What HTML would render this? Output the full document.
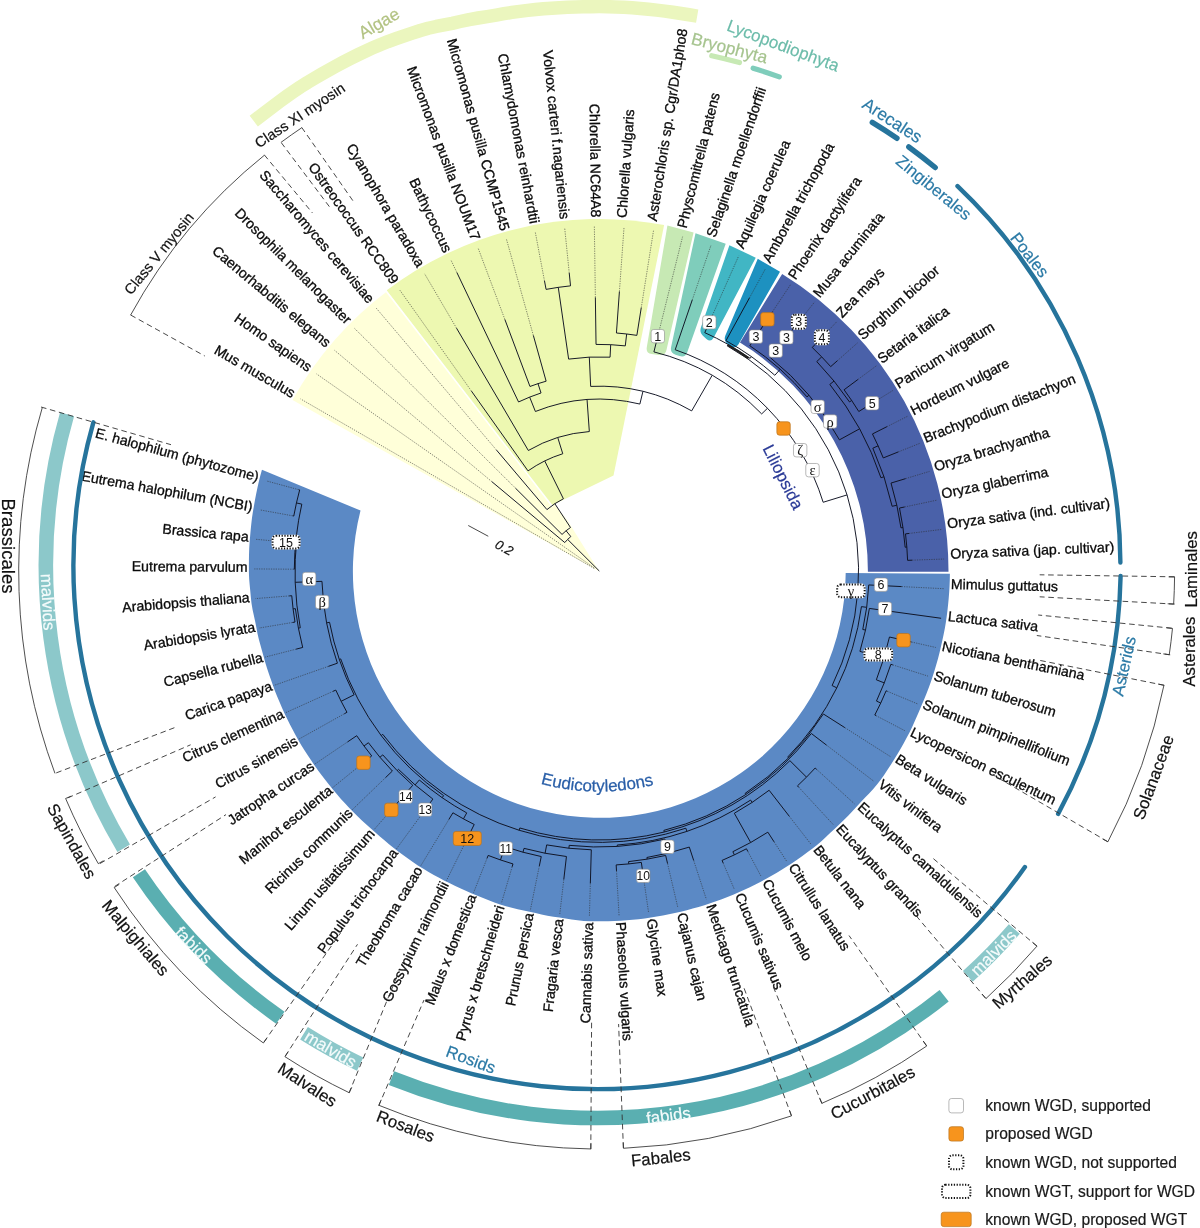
<!DOCTYPE html>
<html><head><meta charset="utf-8"><title>Myosin phylogeny</title>
<style>html,body{margin:0;padding:0;background:#fff}svg{display:block}</style></head>
<body>
<svg width="1200" height="1228" viewBox="0 0 1200 1228">
<path d="M599.3 571.4L292.47 399.92L292.47 399.92A351.5 351.5 0 0 1 387.76 290.68L567.5 520.52Z" fill="#ffffd9"/>
<path d="M551.7 505.6L386.97 290.65L386.73 290.33A352.4 352.4 0 0 1 664.12 225.01L613.5 475.6Z" fill="#edf8b1"/>
<path d="M552.5 506.6 L385.33 290.01" stroke="#fff" stroke-width="1.6" fill="none"/>
<path d="M667.41 225.52L693.57 232.61L666.48 349.88Q665.12 355.72 659.17 354.96L651.75 354.02Q645.8 353.26 646.8 347.34Z" fill="#c7e9b4"/>
<path d="M695.51 233.21L725.7 243.82L687.25 352.17Q685.25 357.83 679.53 356.01L675.59 354.75Q669.87 352.93 671.13 347.07Z" fill="#7fcdbb"/>
<path d="M729.4 245.31L755.74 257.64L713.89 337.34Q711.11 342.66 706.42 338.91L703.7 336.58Q699.02 332.83 700.98 327.17Z" fill="#41b6c4"/>
<path d="M757.77 258.76L780 271.84L738.49 344.2Q735.51 349.4 730.58 345.98L728.06 344.18Q723.13 340.76 725.47 335.24Z" fill="#1d91c0"/>
<path d="M782.19 273.92A349.2 349.2 0 0 1 948.5 571.7L867.9 571.63A268.6 268.6 0 0 0 739.97 342.58Z" fill="#4a61a9" />
<path d="M949.89 573.73L949.79 579.85L949.55 585.98L949.19 592.1L948.71 598.21L948.13 604.31L947.46 610.4L946.69 616.48L945.84 622.54L944.81 628.58L943.62 634.59L942.32 640.57L940.96 646.53L939.57 652.49L938.04 658.42L936.39 664.3L934.63 670.16L932.8 675.99L930.9 681.8L928.83 687.55L926.62 693.24L924.3 698.9L921.93 704.52L919.55 710.14L917.15 715.75L914.71 721.35L912.17 726.91L909.49 732.4L906.65 737.81L903.74 743.18L900.75 748.52L897.66 753.79L894.44 758.99L891.17 764.16L887.85 769.3L884.44 774.38L880.91 779.38L877.21 784.26L873.25 788.93L869.1 793.44L864.87 797.86L860.67 802.29L856.56 806.8L852.4 811.26L848.17 815.65L843.86 819.96L839.48 824.2L835.03 828.38L830.61 832.58L826.18 836.78L821.67 840.91L817.03 844.89L812.23 848.68L807.35 852.36L802.41 855.96L797.41 859.48L792.36 862.92L787.24 866.27L782.07 869.53L776.84 872.7L771.55 875.78L766.22 878.76L760.83 881.66L755.39 884.45L749.9 887.16L744.37 889.76L738.78 892.26L733.16 894.67L727.49 896.97L721.78 899.16L716.03 901.26L710.24 903.25L704.43 905.14L698.58 906.93L692.7 908.62L686.79 910.21L680.85 911.69L674.89 913.08L668.9 914.35L662.9 915.53L656.87 916.59L650.83 917.56L644.77 918.41L638.7 919.16L632.61 919.8L626.51 920.34L620.41 920.76L614.3 921.08L608.18 921.28L602.06 921.36L595.94 921.31L589.82 921.18L583.71 920.9L577.62 920.26L571.56 919.38L565.52 918.44L559.48 917.62L553.44 916.77L547.45 915.66L541.49 914.41L535.55 913.1L529.6 911.84L523.66 910.57L517.74 909.19L511.84 907.72L505.98 906.13L500.14 904.45L494.38 902.52L488.7 900.34L483.09 898.01L477.5 895.67L471.88 893.4L466.29 891.07L460.76 888.6L455.29 886.02L449.85 883.37L444.43 880.69L439.07 877.87L433.79 874.93L428.57 871.88L423.38 868.78L418.23 865.63L413.19 862.29L408.27 858.8L403.4 855.22L398.56 851.63L393.72 848.04L389.01 844.27L384.41 840.37L379.89 836.4L375.37 832.42L370.84 828.47L366.34 824.48L361.89 820.43L357.52 816.3L353.24 812.07L349.06 807.74L344.95 803.34L340.91 798.88L336.95 794.34L333.08 789.73L329.29 785.05L325.55 780.34L321.87 775.57L318.27 770.74L314.79 765.82L311.41 760.83L308.07 755.81L304.78 750.76L301.6 745.63L298.55 740.43L295.61 735.16L292.73 729.86L289.93 724.51L287.23 719.11L284.66 713.65L282.18 708.14L279.75 702.61L277.39 697.05L275.15 691.44L273.06 685.76L271.04 680.06L269.04 674.35L267.12 668.61L265.33 662.83L263.74 656.99L262.13 651.14L260.48 645.31L258.89 639.44L257.48 633.52L256.36 627.55L255.17 621.59L253.86 615.62L252.59 609.64L251.54 603.61L250.88 597.53L250.32 591.45L249.71 585.35L249.19 579.25L248.92 573.13L248.9 567L248.92 560.87L249.01 554.74L249.22 548.61L249.6 542.48L250.12 536.37L250.65 530.25L251.25 524.14L251.97 518.03L252.87 511.95L253.93 505.9L255.03 499.85L256.19 493.81L257.44 487.78L258.79 481.78L260.29 475.8L261.95 469.87L360.53 510.54L360.53 510.54A246.4 246.4 0 1 0 845.69 573.03Z" fill="#5b89c5"/>
<path d="M491.84 481.67L334.49 350.27M515.56 488.26L354.47 328.32M496.52 450.09L376.28 308.18M471.46 391.13L399.73 289.98M456.55 328.2L424.66 273.87M456.91 272.59L450.89 259.95M504.88 319.51L478.21 248.35M533.35 335.44L506.43 239.14M544.49 280.93L535.33 232.38M569.23 272.91L564.71 228.14M595.37 297.43L594.35 226.44M619.41 291.52L624.02 227.29M641.26 307.72L653.51 230.69M656.28 342.38L682.6 236.61M692.28 299.88L711.07 245.01M712.45 315.28L738.72 255.83M749.45 297.91L765.33 268.98M772.41 311.83L790.71 284.37M804.07 315.17L814.68 301.89M827.4 331.55L837.05 321.4M837.44 360.66L857.66 342.77M857.89 379.53L876.36 365.82M879.39 398.79L893.01 390.4M886.93 426.66L907.48 416.32M898.31 451.92L919.67 443.39M905.56 478.65L929.49 471.4M904.57 506.97L936.86 500.15M908.98 533.45L941.74 529.44M912.1 560.18L944.08 559.03M901.62 586.59L943.87 588.71M911.42 641.97L935.81 647.48M892.77 664.89L928.02 676.13M887.34 691.31L917.8 704M875.96 715.63L905.22 730.89M844.82 727.61L890.38 756.59M826.51 745.1L873.38 780.93M816.65 769.37L854.36 803.72M798.83 787.33L833.44 824.78M789.34 816.32L810.79 843.97M774.09 841.83L786.58 861.14M747.85 851.44L760.98 876.17M723.23 863.17L734.18 888.94M693.66 860.39L706.38 899.36M667.55 863.53L677.79 907.35M644.19 882.17L648.62 912.86M616.5 870.91L619.09 915.83M590.35 883.27L589.4 916.26M563.8 879.36L559.79 914.13M539.33 865.96L530.48 909.47M512.14 866.81L501.67 902.3M487.07 858.22L473.59 892.68M463.71 845.72L446.43 880.68M448.93 819.37L420.46 866.31M421.09 815.21L396.25 849.2M386.33 815.57L373.64 830.11M385.56 777.61L352.02 809.97M357.75 767.29L332.35 787.89M347.6 741.88L314.48 764.31M344.35 713.76L298.6 739.3M333.06 691.31L285.01 712.96M328.45 666.33L273.72 685.51M296.11 649.15L265.11 657.1M292.52 622.47L258.98 628.06M289.27 595.91L255.37 598.59M293.81 569.21L254.31 568.93M271.73 540.77L255.8 539.28M292.79 515.84L259.83 509.87M298.71 489.7L266.38 480.91M594.1 568.4L300.52 398.9M594.38 567.96L316.46 373.85" fill="none" stroke="#2a2a2a" stroke-width="0.55" stroke-dasharray="1.3 1.1"/>
<path d="M564.76 542.56L491.84 481.67M562.04 534.41L515.56 488.26M546.94 509.6L496.52 450.09M528.03 470.9L471.46 391.13M528.33 450.49L456.55 328.2M518.55 401.96L456.91 272.59M529.98 386.47L504.88 319.51M546.13 381.19L533.35 335.44M529.98 386.47A197.5 197.5 0 0 1 546.13 381.19M541.04 392.97L538 383.65M518.55 401.96A187.7 187.7 0 0 1 541.04 392.97M535.4 411.49L529.65 397.1M546.09 289.38L544.49 280.93M570.53 285.85L569.23 272.91M546.09 289.38A287 287 0 0 1 570.53 285.85M568.64 359.1L558.27 287.35M596.04 344.42L595.37 297.43M616.43 333.01L619.41 291.52M636.86 335.37L641.26 307.72M616.43 333.01A239 239 0 0 1 636.86 335.37M625.29 345.89L626.67 333.97M596.04 344.42A227 227 0 0 1 625.29 345.89M610.07 357.17L610.69 344.69M568.64 359.1A214.5 214.5 0 0 1 610.07 357.17M590.67 386.4L589.3 357.13M653.92 351.89L656.28 342.38M675.21 349.74L692.28 299.88M704.77 332.66L712.45 315.28M725.97 340.68L749.45 297.91M749.82 345.69L772.41 311.83M770.23 357.51L804.07 315.17M812.24 347.49L827.4 331.55M830.7 366.62L837.44 360.66M812.24 347.49A309 309 0 0 1 830.7 366.62M816.78 361.58L821.68 356.86M844.08 389.78L857.89 379.53M858.78 411.49L879.39 398.79M844.08 389.78A304.8 304.8 0 0 1 858.78 411.49M849.51 401.93L851.66 400.47M816.78 361.58A302.2 302.2 0 0 1 849.51 401.93M829.82 384.45L834.02 381.05M872.46 433.94L886.93 426.66M883.27 457.93L898.31 451.92M872.46 433.94A305.8 305.8 0 0 1 883.27 457.93M872.84 448.2L878.12 445.82M891.02 483.05L905.56 478.65M899.49 508.04L904.57 506.97M905.51 533.88L908.98 533.45M907.6 560.34L912.1 560.18M905.51 533.88A308.5 308.5 0 0 1 907.6 560.34M905.15 547.22L906.84 547.09M899.49 508.04A306.8 306.8 0 0 1 905.15 547.22M900.97 527.83L902.95 527.54M891.02 483.05A304.8 304.8 0 0 1 900.97 527.83M892.15 506.29L896.84 505.25M872.84 448.2A300 300 0 0 1 892.15 506.29M880.94 477.76L883.98 476.75M829.82 384.45A296.8 296.8 0 0 1 880.94 477.76M839.43 439.85L859.6 428.8M770.23 357.51A273.8 273.8 0 0 1 839.43 439.85M807 396.86L808.91 395.25M749.82 345.69A271.3 271.3 0 0 1 807 396.86M774.83 375.28L780.23 369.24M725.97 340.68A263.2 263.2 0 0 1 774.83 375.28M750.11 358.38L751.38 356.59M704.77 332.66A261 261 0 0 1 750.11 358.38M727.25 345.87L728.09 344.39M868.76 584.94L901.62 586.59M869.37 608.43L941.1 618.27M889.48 637.01L911.42 641.97M890.86 664.29L892.77 664.89M886.14 690.81L887.34 691.31M874.81 715.03L875.96 715.63M886.14 690.81A310.7 310.7 0 0 1 874.81 715.03M876.48 701.05L880.73 703.04M890.86 664.29A306 306 0 0 1 876.48 701.05M876.35 679.81L884.26 682.9M889.48 637.01A297.5 297.5 0 0 1 876.35 679.81M859.91 651.35L883.72 658.65M869.37 608.43A272.6 272.6 0 0 1 859.91 651.35M862.77 629.48L865.51 630.08M868.76 584.94A269.8 269.8 0 0 1 862.77 629.48M861.44 606.63L866.7 607.34M823.39 713.97L844.82 727.61M811.34 733.5L826.51 745.1M815.17 768.03L816.65 769.37M797.47 785.86L798.83 787.33M815.17 768.03A292 292 0 0 1 797.47 785.86M789.91 760.65L806.51 777.13M769.11 790.25L789.34 816.32M767.85 832.17L774.09 841.83M746.45 848.79L747.85 851.44M722.06 860.41L723.23 863.17M746.45 848.79A314 314 0 0 1 722.06 860.41M732.87 851.7L734.38 854.86M767.85 832.17A310.5 310.5 0 0 1 732.87 851.7M734.34 813.25L750.68 842.5M769.11 790.25A277 277 0 0 1 734.34 813.25M750.61 800.07L752.16 802.4M689.31 847.08L693.66 860.39M665.67 855.45L667.55 863.53M641.33 862.38L644.19 882.17M616.16 864.92L616.5 870.91M641.33 862.38A294 294 0 0 1 616.16 864.92M628.54 861.63L628.77 863.92M665.67 855.45A291.7 291.7 0 0 1 628.54 861.63M646.92 857.46L647.2 859.14M689.31 847.08A290 290 0 0 1 646.92 857.46M664.89 839.08L668.31 853.07M591.31 849.79L590.35 883.27M566.44 856.51L563.8 879.36M541.25 856.55L539.33 865.96M512.99 863.93L512.14 866.81M488.16 855.43L487.07 858.22M512.99 863.93A305 305 0 0 1 488.16 855.43M505.02 846.7L500.48 859.95M541.25 856.55A291 291 0 0 1 505.02 846.7M524.03 848.35L522.98 852.21M566.44 856.51A287 287 0 0 1 524.03 848.35M546.68 844.88L545.08 853.23M591.31 849.79A278.5 278.5 0 0 1 546.68 844.88M569.21 845.35L568.9 848.24M664.89 839.08A275.6 275.6 0 0 1 569.21 845.35M617.23 845.01L617.33 846.41M750.61 800.07A274.2 274.2 0 0 1 617.23 845.01M685.83 828.21L686.86 831.25M474.21 824.48L463.71 845.72M452.92 812.79L448.93 819.37M474.21 824.48A282.3 282.3 0 0 1 452.92 812.79M466.72 812.9L463.44 818.86M432.89 799.07L421.09 815.21M412.75 785.27L386.33 815.57M392.39 771.02L385.56 777.61M371.73 755.95L357.75 767.29M356.71 735.71L347.6 741.88M371.73 755.95A293 293 0 0 1 356.71 735.71M368.42 742.72L364 745.99M392.39 771.02A287.5 287.5 0 0 1 368.42 742.72M382.77 754.86L379.95 757.25M412.75 785.27A283.8 283.8 0 0 1 382.77 754.86M398.47 769.37L397.19 770.63M432.89 799.07A282 282 0 0 1 398.47 769.37M419.33 779.99L415.08 784.91M466.72 812.9A275.5 275.5 0 0 1 419.33 779.99M443.58 795.64L442.16 797.69M346.97 712.29L344.35 713.76M335.79 690.08L333.06 691.31M346.97 712.29A289 289 0 0 1 335.79 690.08M354.1 694.79L341.14 701.31M337.42 663.19L328.45 666.33M302.7 647.46L296.11 649.15M294.99 622.06L292.52 622.47M291.76 595.71L289.27 595.91M294.99 622.06A308.5 308.5 0 0 1 291.76 595.71M295.37 608.64L293.09 608.92M302.7 647.46A306.2 306.2 0 0 1 295.37 608.64M300.28 627.82L298.41 628.17M294.31 569.21L293.81 569.21M295.62 543L271.73 540.77M293.78 516.02L292.79 515.84M299.67 489.96L298.71 489.7M293.78 516.02A310.5 310.5 0 0 1 299.67 489.96M301.81 504.14L296.44 502.93M294.31 569.21A305 305 0 0 1 301.81 504.14M297 536.55L296.31 536.47M300.28 627.82A304.3 304.3 0 0 1 297 536.55M321.98 581.35L295.2 582.31M337.42 663.19A277.5 277.5 0 0 1 321.98 581.35M329.56 622.29L326.61 622.85M354.1 694.79A274.5 274.5 0 0 1 329.56 622.29M340.71 658.92L339.29 659.4M443.58 795.64A273 273 0 0 1 340.71 658.92M382.76 734.34L381.16 735.55M685.83 828.21A271 271 0 0 1 382.76 734.34M519.83 827.98L519.12 830.27M789.91 760.65A268.6 268.6 0 0 1 519.83 827.98M663.86 830.37L664.27 832.02M811.34 733.5A266.9 266.9 0 0 1 663.86 830.37M745.12 793.39L745.84 794.48M823.39 713.97A265.6 265.6 0 0 1 745.12 793.39M787.69 757.06L788.47 757.83M861.44 606.63A264.5 264.5 0 0 1 787.69 757.06M832.12 685.55L836.79 687.84M727.25 345.87A259.3 259.3 0 0 1 832.12 685.55M823.17 502.28L847.06 494.91M675.21 349.74A234.3 234.3 0 0 1 823.17 502.28M761.67 413.91L767.48 408.27M653.92 351.89A226.2 226.2 0 0 1 761.67 413.91M691.68 410.89L712.14 375.35M590.67 386.4A185.2 185.2 0 0 1 691.68 410.89M639.87 404.05L642.93 391.41M535.4 411.49A172.2 172.2 0 0 1 639.87 404.05M589.33 431.55L587.06 399.64M528.33 450.49A140.2 140.2 0 0 1 589.33 431.55M562.78 453.74L557.74 437.5M528.03 470.9A123.2 123.2 0 0 1 562.78 453.74M563.42 498.78L544.73 460.95M546.94 509.6A81 81 0 0 1 563.42 498.78M570.49 527.51L554.85 503.69M562.04 534.41A52.5 52.5 0 0 1 570.49 527.51M570.83 536.55L566.09 530.74M564.76 542.56A45 45 0 0 1 570.83 536.55M599.3 571L567.65 539.41" fill="none" stroke="#0d1020" stroke-width="0.95" stroke-linejoin="miter"/>
<path d="M727.82 345.16A260.2 260.2 0 0 1 748.54 358.26" fill="none" stroke="#222" stroke-width="2.2"/>
<rect x="651.13" y="329.47" width="13.4" height="13.4" rx="2.6" fill="#fff" stroke="#8a8a8a" stroke-width="0.6"/>
<text x="657.83" y="340.67" font-family='"Liberation Sans", sans-serif' font-size="12.5" text-anchor="middle" fill="#111">1</text>
<rect x="702.64" y="315.62" width="13.4" height="13.4" rx="2.6" fill="#fff" stroke="#8a8a8a" stroke-width="0.6"/>
<text x="709.34" y="326.82" font-family='"Liberation Sans", sans-serif' font-size="12.5" text-anchor="middle" fill="#111">2</text>
<rect x="749.17" y="329.92" width="13.4" height="13.4" rx="2.6" fill="#fff" stroke="#8a8a8a" stroke-width="0.6"/>
<text x="755.87" y="341.12" font-family='"Liberation Sans", sans-serif' font-size="12.5" text-anchor="middle" fill="#111">3</text>
<rect x="760.71" y="312.61" width="13.4" height="13.4" rx="2.6" fill="#f7941d" stroke="#b9721c" stroke-width="0.7"/>
<rect x="769.02" y="343.94" width="13.4" height="13.4" rx="2.6" fill="#fff" stroke="#8a8a8a" stroke-width="0.6"/>
<text x="775.72" y="355.14" font-family='"Liberation Sans", sans-serif' font-size="12.5" text-anchor="middle" fill="#111">3</text>
<rect x="779.7" y="330.58" width="13.4" height="13.4" rx="2.6" fill="#fff" stroke="#8a8a8a" stroke-width="0.6"/>
<text x="786.4" y="341.78" font-family='"Liberation Sans", sans-serif' font-size="12.5" text-anchor="middle" fill="#111">3</text>
<rect x="790.82" y="313.73" width="16" height="16" rx="4.2" fill="#fff"/>
<rect x="791.82" y="314.73" width="14" height="14" rx="3.4" fill="none" stroke="#111" stroke-width="2.0" stroke-dasharray="1.25 1.55"/>
<text x="798.82" y="326.23" font-family='"Liberation Sans", sans-serif' font-size="12.5" text-anchor="middle" fill="#111">3</text>
<rect x="813.89" y="329.34" width="16" height="16" rx="4.2" fill="#fff"/>
<rect x="814.89" y="330.34" width="14" height="14" rx="3.4" fill="none" stroke="#111" stroke-width="2.0" stroke-dasharray="1.25 1.55"/>
<text x="821.89" y="341.84" font-family='"Liberation Sans", sans-serif' font-size="12.5" text-anchor="middle" fill="#111">4</text>
<rect x="865.45" y="396.55" width="13.4" height="13.4" rx="2.6" fill="#fff" stroke="#8a8a8a" stroke-width="0.6"/>
<text x="872.15" y="407.75" font-family='"Liberation Sans", sans-serif' font-size="12.5" text-anchor="middle" fill="#111">5</text>
<rect x="811.03" y="400.1" width="13.4" height="13.4" rx="2.6" fill="#fff" stroke="#8a8a8a" stroke-width="0.6"/>
<text x="817.73" y="412.02" font-family='"Liberation Serif", serif' font-size="14.5" text-anchor="middle" fill="#111">σ</text>
<rect x="823.49" y="414.76" width="13.4" height="13.4" rx="2.6" fill="#fff" stroke="#8a8a8a" stroke-width="0.6"/>
<text x="830.19" y="426.68" font-family='"Liberation Serif", serif' font-size="14.5" text-anchor="middle" fill="#111">ρ</text>
<rect x="776.86" y="421.77" width="13.4" height="13.4" rx="2.6" fill="#f7941d" stroke="#b9721c" stroke-width="0.7"/>
<rect x="793.48" y="443.52" width="13.4" height="13.4" rx="2.6" fill="#fff" stroke="#8a8a8a" stroke-width="0.6"/>
<text x="800.18" y="455.44" font-family='"Liberation Serif", serif' font-size="14.5" text-anchor="middle" fill="#111">ζ</text>
<rect x="805.79" y="463.47" width="13.4" height="13.4" rx="2.6" fill="#fff" stroke="#8a8a8a" stroke-width="0.6"/>
<text x="812.49" y="475.39" font-family='"Liberation Serif", serif' font-size="14.5" text-anchor="middle" fill="#111">ε</text>
<rect x="836.15" y="583.6" width="29.5" height="14.6" rx="4.2" fill="#fff"/>
<rect x="837.15" y="584.6" width="27.5" height="12.6" rx="3.4" fill="none" stroke="#111" stroke-width="2.0" stroke-dasharray="1.25 1.55"/>
<text x="850.9" y="596.12" font-family='"Liberation Serif", serif' font-size="14.5" text-anchor="middle" fill="#111">γ</text>
<rect x="874.29" y="577.98" width="13.4" height="13.4" rx="2.6" fill="#fff" stroke="#8a8a8a" stroke-width="0.6"/>
<text x="880.99" y="589.18" font-family='"Liberation Sans", sans-serif' font-size="12.5" text-anchor="middle" fill="#111">6</text>
<rect x="878.27" y="602.06" width="13.4" height="13.4" rx="2.6" fill="#fff" stroke="#8a8a8a" stroke-width="0.6"/>
<text x="884.97" y="613.26" font-family='"Liberation Sans", sans-serif' font-size="12.5" text-anchor="middle" fill="#111">7</text>
<rect x="863.45" y="647.5" width="29.7" height="14" rx="4.2" fill="#fff"/>
<rect x="864.45" y="648.5" width="27.7" height="12" rx="3.4" fill="none" stroke="#111" stroke-width="2.0" stroke-dasharray="1.25 1.55"/>
<text x="878.3" y="659" font-family='"Liberation Sans", sans-serif' font-size="12.5" text-anchor="middle" fill="#111">8</text>
<rect x="896.82" y="633.48" width="13.4" height="13.4" rx="2.6" fill="#f7941d" stroke="#b9721c" stroke-width="0.7"/>
<rect x="660.75" y="840.09" width="13.4" height="13.4" rx="2.6" fill="#fff" stroke="#8a8a8a" stroke-width="0.6"/>
<text x="667.45" y="851.29" font-family='"Liberation Sans", sans-serif' font-size="12.5" text-anchor="middle" fill="#111">9</text>
<rect x="636.57" y="869.14" width="13.4" height="13.4" rx="2.6" fill="#fff" stroke="#8a8a8a" stroke-width="0.6"/>
<text x="643.27" y="880.16" font-family='"Liberation Sans", sans-serif' font-size="12" text-anchor="middle" fill="#111">10</text>
<rect x="499.09" y="841.75" width="13.4" height="13.4" rx="2.6" fill="#fff" stroke="#8a8a8a" stroke-width="0.6"/>
<text x="505.79" y="852.77" font-family='"Liberation Sans", sans-serif' font-size="12" text-anchor="middle" fill="#111">11</text>
<rect x="453.3" y="831.46" width="28" height="14" rx="2.6" fill="#f7941d" stroke="#b9721c" stroke-width="0.7"/>
<text x="467.3" y="842.96" font-family='"Liberation Sans", sans-serif' font-size="12.5" text-anchor="middle" fill="#111">12</text>
<rect x="418.46" y="802.94" width="13.4" height="13.4" rx="2.6" fill="#fff" stroke="#8a8a8a" stroke-width="0.6"/>
<text x="425.16" y="813.96" font-family='"Liberation Sans", sans-serif' font-size="12" text-anchor="middle" fill="#111">13</text>
<rect x="398.94" y="789.88" width="13.4" height="13.4" rx="2.6" fill="#fff" stroke="#8a8a8a" stroke-width="0.6"/>
<text x="405.64" y="800.9" font-family='"Liberation Sans", sans-serif' font-size="12" text-anchor="middle" fill="#111">14</text>
<rect x="384.62" y="803.14" width="13.4" height="13.4" rx="2.6" fill="#f7941d" stroke="#b9721c" stroke-width="0.7"/>
<rect x="356.72" y="755.99" width="13.4" height="13.4" rx="2.6" fill="#f7941d" stroke="#b9721c" stroke-width="0.7"/>
<rect x="302.5" y="572.3" width="13.4" height="13.4" rx="2.6" fill="#fff" stroke="#8a8a8a" stroke-width="0.6"/>
<text x="309.2" y="584.22" font-family='"Liberation Serif", serif' font-size="14.5" text-anchor="middle" fill="#111">α</text>
<rect x="315.48" y="595.29" width="13.4" height="13.4" rx="2.6" fill="#fff" stroke="#8a8a8a" stroke-width="0.6"/>
<text x="322.18" y="607.21" font-family='"Liberation Serif", serif' font-size="14.5" text-anchor="middle" fill="#111">β</text>
<rect x="271.57" y="534.71" width="29" height="14.8" rx="4.2" fill="#fff"/>
<rect x="272.57" y="535.71" width="27" height="12.8" rx="3.4" fill="none" stroke="#111" stroke-width="2.0" stroke-dasharray="1.25 1.55"/>
<text x="286.07" y="546.61" font-family='"Liberation Sans", sans-serif' font-size="12.5" text-anchor="middle" fill="#111">15</text>
<g font-family='"Liberation Sans", sans-serif' font-size="14.2" fill="#0a0a0a" stroke="#0a0a0a" stroke-width="0.3">
<text transform="translate(293.59 394.9) rotate(390)" text-anchor="end" dy="3.85">Mus musculus</text>
<text transform="translate(309.85 369.24) rotate(394.93)" text-anchor="end" dy="3.85">Homo sapiens</text>
<text transform="translate(328.19 345.02) rotate(399.86)" text-anchor="end" dy="3.85">Caenorhabditis elegans</text>
<text transform="translate(348.55 322.44) rotate(404.79)" text-anchor="end" dy="3.85">Drosophila melanogaster</text>
<text transform="translate(370.8 301.71) rotate(409.73)" text-anchor="end" dy="3.85">Saccharomyces cerevisiae</text>
<text transform="translate(394.81 283.04) rotate(414.66)" text-anchor="end" dy="3.85">Ostreococcus RCC809</text>
<text transform="translate(420.29 266.42) rotate(419.59)" text-anchor="end" dy="3.85">Cyanophora paradoxa</text>
<text transform="translate(447.1 252.01) rotate(424.52)" text-anchor="end" dy="3.85">Bathycoccus</text>
<text transform="translate(475.08 240.02) rotate(429.45)" text-anchor="end" dy="3.85">Micromonas pusilla NOUM17</text>
<text transform="translate(504.02 230.54) rotate(434.38)" text-anchor="end" dy="3.85">Micromonas pusilla CCMP1545</text>
<text transform="translate(533.67 223.55) rotate(439.32)" text-anchor="end" dy="3.85">Chlamydomonas reinhardtii</text>
<text transform="translate(563.81 219.12) rotate(444.25)" text-anchor="end" dy="3.85">Volvox carteri f.nagariensis</text>
<text transform="translate(594.22 217.34) rotate(449.18)" text-anchor="end" dy="3.06">Chlorella NC64A8</text>
<text transform="translate(624.68 218.14) rotate(274.11)" dy="1.85">Chlorella vulgaris</text>
<text transform="translate(654.97 221.51) rotate(279.04)" dy="1.85">Asterochloris sp. Cgr/DA1pho8</text>
<text transform="translate(684.63 228.46) rotate(283.97)" dy="1.85">Physcomitrella patens</text>
<text transform="translate(713.6 237.63) rotate(288.9)" dy="1.85">Selaginella moellendorffii</text>
<text transform="translate(741.79 248.87) rotate(293.84)" dy="1.85">Aquilegia coerulea</text>
<text transform="translate(768.61 263.01) rotate(298.77)" dy="1.85">Amborella trichopoda</text>
<text transform="translate(794.04 279.38) rotate(303.7)" dy="1.85">Phoenix dactylifera</text>
<text transform="translate(818.37 297.27) rotate(308.63)" dy="1.85">Musa acuminata</text>
<text transform="translate(841 317.25) rotate(313.56)" dy="1.85">Zea mays</text>
<text transform="translate(861.86 339.05) rotate(318.49)" dy="1.85">Sorghum bicolor</text>
<text transform="translate(880.87 362.48) rotate(323.42)" dy="1.85">Setaria italica</text>
<text transform="translate(897.82 387.43) rotate(328.36)" dy="1.85">Panicum virgatum</text>
<text transform="translate(912.59 413.75) rotate(333.29)" dy="1.85">Hordeum vulgare</text>
<text transform="translate(925.05 441.23) rotate(338.22)" dy="1.85">Brachypodium distachyon</text>
<text transform="translate(935.1 469.7) rotate(343.15)" dy="1.85">Oryza brachyantha</text>
<text transform="translate(942.63 498.94) rotate(348.08)" dy="-0.15">Oryza glaberrima</text>
<text transform="translate(947.78 528.7) rotate(352.71)" dy="-0.15">Oryza sativa (ind. cultivar)</text>
<text transform="translate(950.57 558.8) rotate(357.55)" dy="-0.15">Oryza sativa (jap. cultivar)</text>
<text transform="translate(950.69 589.06) rotate(1.28)" dy="-0.15">Mimulus guttatus</text>
<text transform="translate(947.64 619.17) rotate(6.61)" dy="1.72">Lactuca sativa</text>
<text transform="translate(941.76 648.83) rotate(11.64)" dy="1.98">Nicotiana benthamiana</text>
<text transform="translate(933.55 677.89) rotate(16.97)" dy="2.11">Solanum tuberosum</text>
<text transform="translate(922.7 706.04) rotate(21.6)" dy="2.25">Solanum pimpinellifolium</text>
<text transform="translate(910.36 733.56) rotate(25.73)" dy="2.38">Lycopersicon esculentum</text>
<text transform="translate(895.45 759.82) rotate(32.47)" dy="2.35">Beta vulgaris</text>
<text transform="translate(878.45 784.8) rotate(37.4)" dy="2.15">Vitis vinifera</text>
<text transform="translate(858.05 807.08) rotate(42.33)" dy="2.05">Eucalyptus camaldulensis</text>
<text transform="translate(836.84 828.46) rotate(47.26)" dy="2.05">Eucalyptus grandis</text>
<text transform="translate(814.41 848.63) rotate(52.19)" dy="2.05">Betula nana</text>
<text transform="translate(789.81 866.15) rotate(57.12)" dy="2.05">Citrullus lanatus</text>
<text transform="translate(763.82 881.54) rotate(62.05)" dy="2.05">Cucumis melo</text>
<text transform="translate(736.59 894.63) rotate(66.99)" dy="2.05">Cucumis sativus</text>
<text transform="translate(708.31 905.26) rotate(71.92)" dy="2.05">Medicago truncatula</text>
<text transform="translate(679.21 913.42) rotate(76.85)" dy="2.27">Cajanus cajan</text>
<text transform="translate(649.52 919.06) rotate(81.78)" dy="2.84">Glycine max</text>
<text transform="translate(619.45 922.12) rotate(86.71)" dy="3.42">Phaseolus vulgaris</text>
<text transform="translate(589.23 922.46) rotate(271.64)" text-anchor="end" dy="3.91">Cannabis sativa</text>
<text transform="translate(559.24 918.9) rotate(276.58)" text-anchor="end" dy="4.25">Fragaria vesca</text>
<text transform="translate(529.72 913.19) rotate(281.51)" text-anchor="end" dy="4.25">Prunus persica</text>
<text transform="translate(500.6 905.94) rotate(286.44)" text-anchor="end" dy="4.25">Pyrus x bretschneideri</text>
<text transform="translate(472.64 895.1) rotate(291.37)" text-anchor="end" dy="4.25">Malus x domestica</text>
<text transform="translate(445.46 882.66) rotate(296.3)" text-anchor="end" dy="4.25">Gossypium raimondii</text>
<text transform="translate(419.48 867.94) rotate(301.23)" text-anchor="end" dy="4.25">Theobroma cacao</text>
<text transform="translate(395.13 850.73) rotate(306.16)" text-anchor="end" dy="4.25">Populus trichocarpa</text>
<text transform="translate(372.39 831.55) rotate(311.1)" text-anchor="end" dy="4.25">Linum usitatissimum</text>
<text transform="translate(350.65 811.29) rotate(316.03)" text-anchor="end" dy="4.25">Ricinus communis</text>
<text transform="translate(330.87 789.09) rotate(320.96)" text-anchor="end" dy="4.25">Manihot esculenta</text>
<text transform="translate(312.91 765.37) rotate(325.89)" text-anchor="end" dy="4.25">Jatropha curcas</text>
<text transform="translate(296.94 740.23) rotate(330.82)" text-anchor="end" dy="4.25">Citrus sinensis</text>
<text transform="translate(283.27 713.74) rotate(335.75)" text-anchor="end" dy="4.25">Citrus clementina</text>
<text transform="translate(271.83 686.17) rotate(340.68)" text-anchor="end" dy="4.25">Carica papaya</text>
<text transform="translate(262.59 657.75) rotate(345.62)" text-anchor="end" dy="4.1">Capsella rubella</text>
<text transform="translate(255.24 628.68) rotate(350.55)" text-anchor="end" dy="3.05">Arabidopsis lyrata</text>
<text transform="translate(249.69 599.04) rotate(355.48)" text-anchor="end" dy="3.05">Arabidopsis thaliana</text>
<text transform="translate(247.6 568.88) rotate(360.41)" text-anchor="end" dy="3.05">Eutrema parvulum</text>
<text transform="translate(248.62 538.61) rotate(365.34)" text-anchor="end" dy="3.05">Brassica rapa</text>
<text transform="translate(252.15 508.48) rotate(370.27)" text-anchor="end" dy="3.05">Eutrema halophilum (NCBI)</text>
<text transform="translate(258.21 478.69) rotate(375.21)" text-anchor="end" dy="3.05">E. halophilum (phytozome)</text>
</g>
<path d="M123.72 848.18A551.6 551.6 0 0 1 67.09 414.29" fill="none" stroke="#8cc8ca" stroke-width="14.6" stroke-linecap="butt"/>
<path d="M280.33 1017.73A552.2 552.2 0 0 1 138.89 873.27" fill="none" stroke="#5aafb1" stroke-width="14.6" stroke-linecap="butt"/>
<path d="M360.1 1064.04A552 552 0 0 1 303.99 1033.2" fill="none" stroke="#8cc8ca" stroke-width="14.6" stroke-linecap="butt"/>
<path d="M944.11 995.7A552.3 552.3 0 0 1 391.49 1078.14" fill="none" stroke="#5aafb1" stroke-width="14.6" stroke-linecap="butt"/>
<path d="M1014.37 929.06A553 553 0 0 1 967.82 976.4" fill="none" stroke="#8cc8ca" stroke-width="14.6" stroke-linecap="butt"/>
<path d="M253.77 121.09L260.31 116.06L266.87 111.04L273.46 106.05L280.09 101.11L286.79 96.25L293.57 91.5L300.45 86.89L307.44 82.45L314.55 78.2L321.64 74.13L328.76 70.12L335.92 66.17L343.13 62.3L350.39 58.53L357.7 54.87L365.09 51.33L372.54 47.94L380.06 44.71L388.02 41.55L396.07 38.63L404.17 35.86L412.29 33.18L420.42 30.51L428.26 28.26L436.22 26.46L444.24 24.89L452.24 23.33L460.16 21.53L469.11 19.57L478.14 18.01L487.18 16.6L496.19 15.07L504.05 13.69L511.92 12.45L519.82 11.35L527.74 10.37L535.66 9.52L543.6 8.79L551.55 8.18L559.5 7.67L567.46 7.27L575.42 6.97L583.38 6.76L591.34 6.64L599.3 6.6L607.51 6.68L615.72 6.91L623.93 7.29L632.13 7.81L640.31 8.47L648.48 9.25L656.64 10.15L664.78 11.15L672.91 12.27L681.02 13.48L689.12 14.78L697.2 16.17" fill="none" stroke="#ebf6be" stroke-width="13.5" stroke-linejoin="round"/>
<path d="M711.74 55.72A527.8 527.8 0 0 1 739.46 62.55" fill="none" stroke="#c7e9b4" stroke-width="5.2" stroke-linecap="round"/>
<path d="M753.15 68.19A526.2 526.2 0 0 1 779.27 76.93" fill="none" stroke="#7fcdbb" stroke-width="5.2" stroke-linecap="round"/>
<path d="M872.31 122.38A525.5 525.5 0 0 1 896.95 138.32" fill="none" stroke="#26749c" stroke-width="5.4" stroke-linecap="round"/>
<path d="M908.8 146.96A525.3 525.3 0 0 1 935.2 167.53" fill="none" stroke="#26749c" stroke-width="5.4" stroke-linecap="round"/>
<path d="M957.52 186.12A523.5 523.5 0 0 1 1120.39 562.51" fill="none" stroke="#26749c" stroke-width="4.4" stroke-linecap="round"/>
<path d="M1120.6 575.98A523.8 523.8 0 0 1 1058.11 813.89" fill="none" stroke="#26749c" stroke-width="4.4" stroke-linecap="round"/>
<path d="M1024.93 867.01A523.5 523.5 0 0 1 93.39 422.31" fill="none" stroke="#26749c" stroke-width="4.4" stroke-linecap="round"/>
<path d="M54.97 773.4A580.6 580.6 0 0 1 42.32 407.47M103.51 860.65L98.33 863.68L98.33 863.68A580 580 0 0 1 65.61 798.49L71.13 796.14M266.88 1038.12L263.4 1043.01L263.4 1043.01A579 579 0 0 1 114.26 887.59L119.29 884.32M351.79 1087.3L349.2 1092.71L349.2 1092.71A578.2 578.2 0 0 1 284.98 1056.7L288.24 1051.67M590.92 1142.94L590.83 1148.94L590.83 1148.94A577.6 577.6 0 0 1 378.91 1105.3L381.2 1099.76M789.47 1110.22L791.47 1115.88L791.47 1115.88A577.4 577.4 0 0 1 623.48 1148.29L623.23 1142.3M923.31 1041.08L926.72 1046.02L926.72 1046.02A576.6 576.6 0 0 1 821.81 1103.34L819.5 1097.8M1032.43 942.24L1036.99 946.15L1036.99 946.15A576.2 576.2 0 0 1 985.97 998.59L981.95 994.14M1158.05 684.06L1163.94 685.25L1163.94 685.25A576 576 0 0 1 1107.88 841.82L1102.58 839M1166.5 627.81L1172.47 628.41L1172.47 628.41A576 576 0 0 1 1169.24 654.75L1163.3 653.88M1168.57 576.86L1174.57 576.92L1174.57 576.92A575.3 575.3 0 0 1 1173.67 604.12L1167.68 603.77M130.59 315.11A534.2 534.2 0 0 1 264.42 155.19M281.02 142.37A534.2 534.2 0 0 1 301.82 127.7" fill="none" stroke="#222" stroke-width="0.8"/>
<path d="M41 407L171 444.7M56.25 772.9L176 727.1M67.7 797.9L190.6 744.8M100 863.5L215.6 796.9M114.6 886.5L226 814.6M264 1042L340.5 933M285.2 1056.2L357.5 944.3M349 1093L398.5 972.6M378.7 1105.8L424 1000M590.8 1149.2L591.6 1022M623.4 1148L618.6 1024M791.4 1115.6L744 988M822 1103.6L772.5 985M926.4 1045.6L849 935.5M1037.1 946.3L933.2 858.5M985.7 998.3L913 912M1164.3 685.3L1036.8 659.8M1107.7 841.6L994.3 775.7M1171.7 628.2L1038.2 615M1170.2 654.8L1036.8 635.5M1174.6 576.8L1039.7 574.8M1174.6 604.1L1039.7 596.8M130.6 315L204.8 356M264.3 154.9L312.5 213M281.3 142.7L330.9 208.7M301.7 127.4L353.5 201.6" fill="none" stroke="#333" stroke-width="0.9" stroke-dasharray="5.6 3.7"/>
<text transform="translate(9 546) rotate(90)" font-family='"Liberation Sans", sans-serif' font-size="18.6" fill="#111" stroke="#111" stroke-width="0.2" text-anchor="middle" dy="6.7">Brassicales</text>
<text transform="translate(72 841) rotate(60.9)" font-family='"Liberation Sans", sans-serif' font-size="16.8" fill="#111" stroke="#111" stroke-width="0.2" text-anchor="middle" dy="6.05">Sapindales</text>
<text transform="translate(135.9 937.7) rotate(49.7)" font-family='"Liberation Sans", sans-serif' font-size="16.8" fill="#111" stroke="#111" stroke-width="0.2" text-anchor="middle" dy="6.05">Malpighiales</text>
<text transform="translate(307.6 1084.5) rotate(33.2)" font-family='"Liberation Sans", sans-serif' font-size="16.8" fill="#111" stroke="#111" stroke-width="0.2" text-anchor="middle" dy="6.05">Malvales</text>
<text transform="translate(405.6 1126) rotate(21)" font-family='"Liberation Sans", sans-serif' font-size="16.8" fill="#111" stroke="#111" stroke-width="0.2" text-anchor="middle" dy="6.05">Rosales</text>
<text transform="translate(660.7 1157.3) rotate(-6)" font-family='"Liberation Sans", sans-serif' font-size="16.8" fill="#111" stroke="#111" stroke-width="0.2" text-anchor="middle" dy="6.05">Fabales</text>
<text transform="translate(872.5 1092.5) rotate(-28.5)" font-family='"Liberation Sans", sans-serif' font-size="16.8" fill="#111" stroke="#111" stroke-width="0.2" text-anchor="middle" dy="6.05">Cucurbitales</text>
<text transform="translate(1021.9 981.3) rotate(-41.2)" font-family='"Liberation Sans", sans-serif' font-size="16.8" fill="#111" stroke="#111" stroke-width="0.2" text-anchor="middle" dy="6.05">Myrthales</text>
<text transform="translate(1153.2 777) rotate(-69.6)" font-family='"Liberation Sans", sans-serif' font-size="16.8" fill="#111" stroke="#111" stroke-width="0.2" text-anchor="middle" dy="6.05">Solanaceae</text>
<text transform="translate(1188.7 651.7) rotate(-90)" font-family='"Liberation Sans", sans-serif' font-size="16.8" fill="#111" stroke="#111" stroke-width="0.2" text-anchor="middle" dy="6.05">Asterales</text>
<text transform="translate(1191 569.3) rotate(-90)" font-family='"Liberation Sans", sans-serif' font-size="16.8" fill="#111" stroke="#111" stroke-width="0.2" text-anchor="middle" dy="6.05">Laminales</text>
<text transform="translate(158.8 253.4) rotate(-50.7)" font-family='"Liberation Sans", sans-serif' font-size="14.6" fill="#111" stroke="#111" stroke-width="0.2" text-anchor="middle" dy="5.26">Class V myosin</text>
<text transform="translate(299.7 115.2) rotate(-33.7)" font-family='"Liberation Sans", sans-serif' font-size="14.6" fill="#111" stroke="#111" stroke-width="0.2" text-anchor="middle" dy="5.26">Class XI myosin</text>
<text transform="translate(378.7 22.8) rotate(-30)" font-family='"Liberation Sans", sans-serif' font-size="17.3" fill="#b3c383" stroke="#b3c383" stroke-width="0.2" text-anchor="middle" dy="6.23">Algae</text>
<text transform="translate(729.6 47.6) rotate(14.5)" font-family='"Liberation Sans", sans-serif' font-size="17.3" fill="#a6c48f" stroke="#a6c48f" stroke-width="0.2" text-anchor="middle" dy="6.23">Bryophyta</text>
<text transform="translate(783.3 45.3) rotate(20.5)" font-family='"Liberation Sans", sans-serif' font-size="17" fill="#6cbcaa" stroke="#6cbcaa" stroke-width="0.2" text-anchor="middle" dy="6.12">Lycopodiophyta</text>
<text transform="translate(892.6 120.2) rotate(33.1)" font-family='"Liberation Sans", sans-serif' font-size="17.3" fill="#2b7aa6" stroke="#2b7aa6" stroke-width="0.2" text-anchor="middle" dy="6.23">Arecales</text>
<text transform="translate(934 187.3) rotate(39.3)" font-family='"Liberation Sans", sans-serif' font-size="16.8" fill="#2b7aa6" stroke="#2b7aa6" stroke-width="0.2" text-anchor="middle" dy="6.05">Zingiberales</text>
<text transform="translate(1030 254.7) rotate(52)" font-family='"Liberation Sans", sans-serif' font-size="16.8" fill="#2b7aa6" stroke="#2b7aa6" stroke-width="0.2" text-anchor="middle" dy="6.05">Poales</text>
<text transform="translate(1123.6 666) rotate(-77.4)" font-family='"Liberation Sans", sans-serif' font-size="16.8" fill="#2b7aa6" stroke="#2b7aa6" stroke-width="0.2" text-anchor="middle" dy="6.05">Asterids</text>
<text transform="translate(471 1059.4) rotate(20.5)" font-family='"Liberation Sans", sans-serif' font-size="16.8" fill="#2b7aa6" stroke="#2b7aa6" stroke-width="0.2" text-anchor="middle" dy="6.05">Rosids</text>
<text transform="translate(48.3 602) rotate(86.8)" font-family='"Liberation Sans", sans-serif' font-size="16.8" fill="#f4fbfb" stroke="#f4fbfb" stroke-width="0.2" text-anchor="middle" dy="6.05">malvids</text>
<text transform="translate(193.9 945) rotate(45)" font-family='"Liberation Sans", sans-serif' font-size="16.8" fill="#f4fbfb" stroke="#f4fbfb" stroke-width="0.2" text-anchor="middle" dy="6.05">fabids</text>
<text transform="translate(330.8 1048.9) rotate(30.6)" font-family='"Liberation Sans", sans-serif' font-size="16.8" fill="#f4fbfb" stroke="#f4fbfb" stroke-width="0.2" text-anchor="middle" dy="6.05">malvids</text>
<text transform="translate(668.3 1115.2) rotate(-7.5)" font-family='"Liberation Sans", sans-serif' font-size="16.8" fill="#f4fbfb" stroke="#f4fbfb" stroke-width="0.2" text-anchor="middle" dy="6.05">fabids</text>
<text transform="translate(993.2 952.6) rotate(-45)" font-family='"Liberation Sans", sans-serif' font-size="16.8" fill="#f4fbfb" stroke="#f4fbfb" stroke-width="0.2" text-anchor="middle" dy="6.05">malvids</text>
<text transform="translate(783.3 476.8) rotate(63.3)" font-family='"Liberation Sans", sans-serif' font-size="16.8" fill="#2b3b97" stroke="#2b3b97" stroke-width="0.2" text-anchor="middle" dy="6.05">Liliopsida</text>
<text x="540.62 551.57 560.78 570.08 573.8 582.21 591.59 596.29 604.74 608.49 617.87 627.21 636.51 645.73" y="783.71 786.42 788.26 789.66 790.16 790.99 791.48 791.62 791.54 791.46 790.87 789.87 788.48 786.69" rotate="13.98 11.29 8.85 7.14 5.55 3.23 1.4 -0.32 -1.9 -3.61 -6.06 -8.5 -10.95 -13.27" font-family='"Liberation Sans", sans-serif' font-size="16.9" fill="#2a5fa8" stroke="#2a5fa8" stroke-width="0.25">Eudicotyledons</text>
<path d="M468.25 525.5L488.25 536.25" stroke="#333" stroke-width="0.9"/>
<text transform="translate(504.4 547.5) rotate(28.3)" font-family='"Liberation Sans", sans-serif' font-size="13.2" fill="#111" stroke="#111" stroke-width="0.2" text-anchor="middle" font-style="italic" dy="4.7">0.2</text>
<rect x="948.9" y="1098.5" width="14.6" height="14.4" rx="2.6" fill="#fff" stroke="#8a8a8a" stroke-width="0.6"/>
<text x="985.3" y="1111" font-family='"Liberation Sans", sans-serif' font-size="15.6" fill="#1a1a1a" stroke="#1a1a1a" stroke-width="0.2">known WGD, supported</text>
<rect x="948.9" y="1126.7" width="14.6" height="14.4" rx="2.6" fill="#f7941d" stroke="#b9721c" stroke-width="0.7"/>
<text x="985.3" y="1139.2" font-family='"Liberation Sans", sans-serif' font-size="15.6" fill="#1a1a1a" stroke="#1a1a1a" stroke-width="0.2">proposed WGD</text>
<rect x="948" y="1154.3" width="16.4" height="16" rx="4.2" fill="#fff"/>
<rect x="949" y="1155.3" width="14.4" height="14" rx="3.4" fill="none" stroke="#111" stroke-width="2.0" stroke-dasharray="1.25 1.55"/>
<text x="985.3" y="1167.6" font-family='"Liberation Sans", sans-serif' font-size="15.6" fill="#1a1a1a" stroke="#1a1a1a" stroke-width="0.2">known WGD, not supported</text>
<rect x="941" y="1183.8" width="30.4" height="15.2" rx="4.2" fill="#fff"/>
<rect x="942" y="1184.8" width="28.4" height="13.2" rx="3.4" fill="none" stroke="#111" stroke-width="2.0" stroke-dasharray="1.25 1.55"/>
<text x="985.3" y="1196.7" font-family='"Liberation Sans", sans-serif' font-size="15.6" fill="#1a1a1a" stroke="#1a1a1a" stroke-width="0.2">known WGT, support for WGD</text>
<rect x="941.2" y="1212.2" width="30" height="14.4" rx="2.6" fill="#f7941d" stroke="#b9721c" stroke-width="0.7"/>
<text x="985.3" y="1224.7" font-family='"Liberation Sans", sans-serif' font-size="15.6" fill="#1a1a1a" stroke="#1a1a1a" stroke-width="0.2">known WGD, proposed WGT</text>
</svg>
</body></html>
